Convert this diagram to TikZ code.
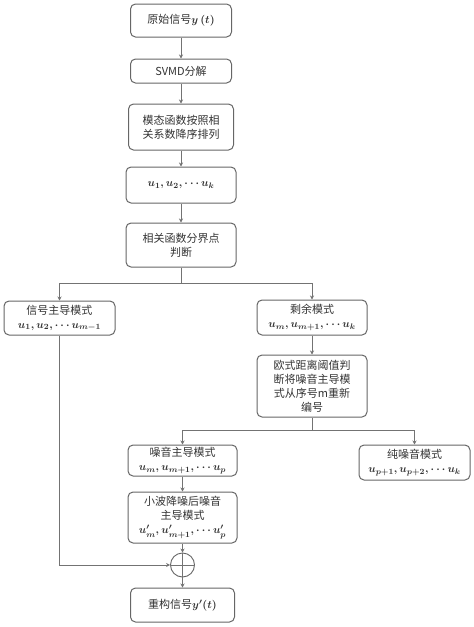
\documentclass[tikz,border=0pt]{standalone}
\usepackage{fontspec}
\newfontfamily\cjk{Noto Sans CJK SC}
\usetikzlibrary{arrows.meta}
\begin{document}
\begin{tikzpicture}[x=1pt,y=-1pt,
  box/.style={draw=black!60,line width=1pt,rounded corners=5pt,align=center,inner sep=1pt,
    font=\cjk\fontsize{11}{14}\selectfont\boldmath,text=black!80},
  con/.style={draw=black!55,line width=0.8pt},
  arr/.style={con,-{Stealth[length=4pt,width=4pt]}}]
\useasboundingbox (0,0) rectangle (474,627);
\node[box,minimum width=101pt,minimum height=33pt] (n1) at (181,20.5) {原始信号$y\,(t)$};
\node[box,minimum width=101pt,minimum height=24pt] (n2) at (181,71) {SVMD分解};
\node[box,minimum width=105pt,minimum height=46pt] (n3) at (181,127) {模态函数按照相\\关系数降序排列};
\node[box,minimum width=110pt,minimum height=36pt] (n4) at (181,185) {$u_1,u_2,\cdots u_k$};
\node[box,minimum width=110pt,minimum height=44pt] (n5) at (181,245) {相关函数分界点\\判断};
\coordinate (s1) at (181,283);
\node[box,minimum width=111pt,minimum height=34pt] (n6) at (59.5,318) {信号主导模式\\$u_1,u_2,\cdots u_{m-1}$};
\node[box,minimum width=110pt,minimum height=35pt] (n7) at (312,317.5) {剩余模式\\$u_m,u_{m+1},\cdots u_k$};
\node[box,minimum width=110pt,minimum height=62pt] (n8) at (312,386) {欧式距离阈值判\\断将噪音主导模\\式从序号m重新\\编号};
\coordinate (s2) at (312,430);
\node[box,minimum width=109pt,minimum height=31pt] (n9) at (182.5,460.5) {噪音主导模式\\$u_m,u_{m+1},\cdots u_p$};
\node[box,minimum width=111pt,minimum height=35pt] (n10) at (414.5,462.5) {纯噪音模式\\$u_{p+1},u_{p+2},\cdots u_k$};
\node[box,minimum width=109pt,minimum height=51pt] (n11) at (182.5,517.5) {小波降噪后噪音\\主导模式\\$u'_m,u'_{m+1},\cdots u'_p$};
\node[draw=black!60,line width=0.9pt,circle,minimum size=24pt,inner sep=0pt] (c) at (182.5,565) {};
\draw[con] (c.north) -- (c.south) (c.west) -- (c.east);
\node[box,minimum width=104pt,minimum height=34pt] (n12) at (182.5,605) {重构信号$y'(t)$};
\draw[arr] (n1) -- (n2);
\draw[arr] (n2) -- (n3);
\draw[arr] (n3) -- (n4);
\draw[arr] (n4) -- (n5);
\draw[con] (n5) -- (s1);
\draw[arr] (s1) -| (n6);
\draw[arr] (s1) -| (n7);
\draw[arr] (n7) -- (n8);
\draw[con] (n8) -- (s2);
\draw[arr] (s2) -| (n9);
\draw[arr] (s2) -| (n10);
\draw[arr] (n9) -- (n11);
\draw[arr] (n11) -- (c);
\draw[arr] (n6) |- (c);
\draw[arr] (c) -- (n12);
\end{tikzpicture}
\end{document}
